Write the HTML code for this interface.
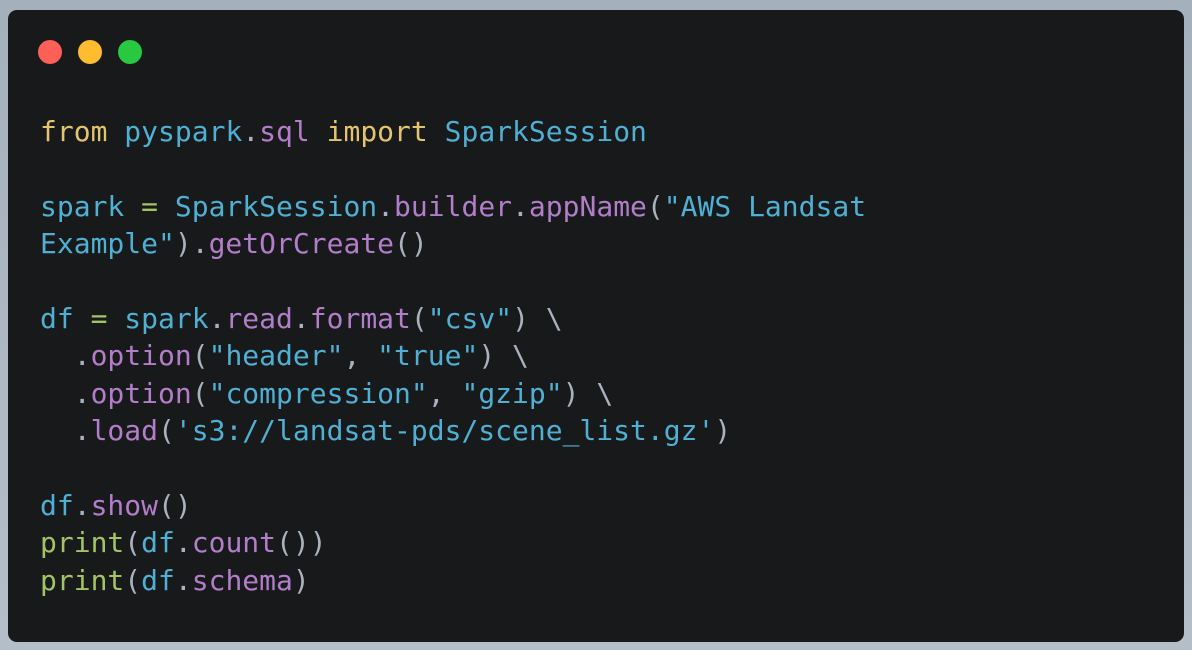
<!DOCTYPE html>
<html><head><meta charset="utf-8"><style>
html,body{margin:0;padding:0;}
body{width:1192px;height:650px;background:linear-gradient(180deg,#a4b0bb,#b4bec8);position:relative;overflow:hidden;}
.win{position:absolute;left:8px;top:10px;width:1176px;height:632px;background:#18191b;border-radius:9px;}
.dot{position:absolute;top:40px;width:24px;height:24px;border-radius:50%;}
pre{position:absolute;left:40px;top:113px;margin:0;font-family:"DejaVu Sans Mono","Liberation Mono",monospace;font-size:28px;line-height:37.4px;color:#abb2bf;}
.k{color:#e2c56e}.b{color:#4fb0d3}.p{color:#b27dc9}.g{color:#a3c464}.s{color:#4fb0d3}
</style></head><body>
<div class="win"></div>
<div class="dot" style="left:38px;background:#fe5f57"></div>
<div class="dot" style="left:78px;background:#febc2e"></div>
<div class="dot" style="left:118px;background:#28c840"></div>
<pre><span class="k">from</span> <span class="b">pyspark</span>.<span class="p">sql</span> <span class="k">import</span> <span class="b">SparkSession</span>

<span class="b">spark</span> <span class="g">=</span> <span class="b">SparkSession</span>.<span class="p">builder</span>.<span class="p">appName</span>(<span class="s">"AWS Landsat</span>
<span class="s">Example"</span>).<span class="p">getOrCreate</span>()

<span class="b">df</span> <span class="g">=</span> <span class="b">spark</span>.<span class="p">read</span>.<span class="p">format</span>(<span class="s">"csv"</span>) \
  .<span class="p">option</span>(<span class="s">"header"</span>, <span class="s">"true"</span>) \
  .<span class="p">option</span>(<span class="s">"compression"</span>, <span class="s">"gzip"</span>) \
  .<span class="p">load</span>(<span class="s">'s3://landsat-pds/scene_list.gz'</span>)

<span class="b">df</span>.<span class="p">show</span>()
<span class="g">print</span>(<span class="b">df</span>.<span class="p">count</span>())
<span class="g">print</span>(<span class="b">df</span>.<span class="p">schema</span>)</pre>
</body></html>
